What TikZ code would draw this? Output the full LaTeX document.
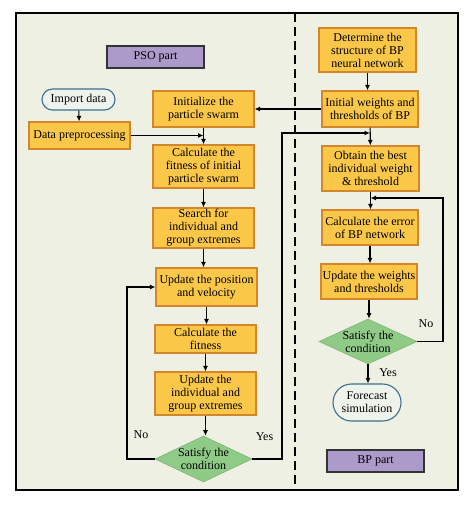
\documentclass[tikz,border=0pt]{standalone}
\usepackage{fontspec}
\setmainfont{Liberation Serif}
\usetikzlibrary{shapes.geometric,shapes.misc,arrows.meta}
\definecolor{bgc}{HTML}{EEF0E4}
\definecolor{boxf}{HTML}{FAC748}
\definecolor{boxd}{HTML}{D4862C}
\definecolor{diamf}{HTML}{8FCB87}
\definecolor{diamd}{HTML}{7DB475}
\definecolor{purf}{HTML}{AC9ACA}
\definecolor{termf}{HTML}{EEF3EC}
\definecolor{termd}{HTML}{3E6E8E}
\tikzset{
  txt/.style={font=\rmfamily\fontsize{12}{13}\selectfont},
  procbox/.style={txt,draw=boxd,fill=boxf,line width=1.1pt,inner sep=1pt,align=center},
  decide/.style={diamond,draw=diamd,fill=diamf,line width=0.6pt,inner sep=0pt},
  term/.style={txt,rounded rectangle,draw=termd,fill=termf,line width=1.1pt,inner sep=1pt,align=center},
  partbox/.style={txt,draw=black!80,fill=purf,line width=1.1pt,inner sep=1pt,align=center},
  conn/.style={line width=1.1pt,-{Latex[length=5.5pt,width=5pt]}},
  lbl/.style={txt}
}
\begin{document}
\begin{tikzpicture}[x=1pt,y=-1pt]
\useasboundingbox (0,0) rectangle (474,510);
\fill[white] (0,0) rectangle (474,510);
\draw[fill=bgc,line width=1.5pt] (16,13) rectangle (458,490);
\draw[line width=1.4pt,dash pattern=on 9pt off 5pt] (295,13) -- (295,490);

% PSO side
\node[partbox,minimum width=97pt,minimum height=22pt] (psopart) at (155.5,57) {PSO part};
\node[term,minimum width=75pt,minimum height=21pt] (import) at (78.5,99.5) {Import data};
\node[procbox,minimum width=101pt,minimum height=27pt] (dataprep) at (79.5,135.5) {Data preprocessing};
\node[procbox,minimum width=101pt,minimum height=36pt] (init) at (203.5,109) {Initialize the\\particle swarm};
\node[procbox,minimum width=101pt,minimum height=43pt] (calcfit) at (203.5,166.5) {Calculate the\\fitness of initial\\particle swarm};
\node[procbox,minimum width=101pt,minimum height=40pt] (search) at (203.5,228) {Search for\\individual and\\group extremes};
\node[procbox,minimum width=101pt,minimum height=38pt] (updpos) at (206.5,287) {Update the position\\and velocity};
\node[procbox,minimum width=101pt,minimum height=28pt] (calcf) at (205.5,339) {Calculate the\\fitness};
\node[procbox,minimum width=101pt,minimum height=43pt] (updind) at (205.5,393.5) {Update the\\individual and\\group extremes};
\node[decide,minimum width=97pt,minimum height=46pt,label={[txt,align=center]center:Satisfy the\\condition}] (diam1) at (203.5,459) {};

% BP side
\node[procbox,minimum width=97pt,minimum height=44pt] (det) at (367.5,50) {Determine the\\structure of BP\\neural network};
\node[procbox,minimum width=96pt,minimum height=36pt] (initw) at (370,109) {Initial weights and\\thresholds of BP};
\node[procbox,minimum width=97pt,minimum height=45pt] (obtain) at (370.5,168.5) {Obtain the best\\individual weight\\\& threshold};
\node[procbox,minimum width=96pt,minimum height=35pt] (calcerr) at (370,227.5) {Calculate the error\\of BP network};
\node[procbox,minimum width=96pt,minimum height=35pt] (updw) at (369,281.5) {Update the weights\\and thresholds};
\node[decide,minimum width=98pt,minimum height=45pt,label={[txt,align=center]center:Satisfy the\\condition}] (diam2) at (368,341.5) {};
\node[term,minimum width=70pt,minimum height=37pt] (forecast) at (367,402.5) {Forecast\\simulation};
\node[partbox,minimum width=97pt,minimum height=22pt] (bppart) at (375.5,461) {BP part};

% coordinates
\coordinate (dpend) at (init.south |- dataprep.east);
\coordinate (nol) at (127,459);
\coordinate (yesr) at (282,459);
\coordinate (yest) at (282,133);
\coordinate (yesend) at (initw.south |- yest);
\coordinate (nor) at (443,341.5);
\coordinate (not) at (443,198);
\coordinate (noend) at (obtain.south |- not);

% connectors PSO
\draw[conn] (import) -- (dataprep);
\draw[conn] (dataprep.east) -- (dpend);
\draw[conn] (init) -- (calcfit);
\draw[conn] (calcfit) -- (search);
\draw[conn] (search.south) -- (search.south |- updpos.north);
\draw[conn] (updpos.south) -- (updpos.south |- calcf.north);
\draw[conn] (calcf) -- (updind);
\draw[conn] (updind.south) -- (updind.south |- diam1.north);
\draw[conn] (diam1.west) -- (nol) |- (updpos.west);
\draw[conn] (diam1.east) -- (yesr) -- (yest) -- (yesend);
\node[lbl] (nolbl) at (141,435) {No};
\node[lbl] (yeslbl) at (264.5,437) {Yes};

% connectors BP
\draw[conn] (det.south) -- (det.south |- initw.north);
\draw[conn] (initw.west) -- (init.east);
\draw[conn] (initw) -- (obtain);
\draw[conn] (obtain.south) -- (obtain.south |- calcerr.north);
\draw[conn] (calcerr.south) -- (calcerr.south |- updw.north);
\draw[conn] (updw.south) -- (updw.south |- diam2.north);
\draw[conn] (diam2.east) -- (nor) -- (not) -- (noend);
\draw[conn] (diam2.south) -- (diam2.south |- forecast.north);
\node[lbl] (no2lbl) at (426,324) {No};
\node[lbl] (yes2lbl) at (388,373) {Yes};
\end{tikzpicture}
\end{document}
